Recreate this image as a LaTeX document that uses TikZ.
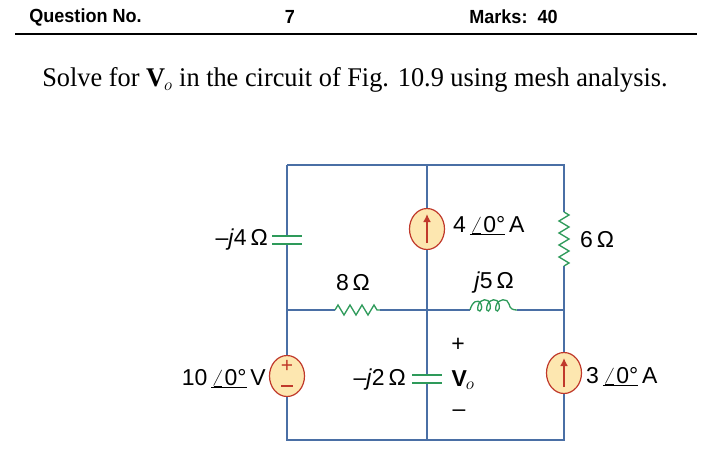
\documentclass[tikz,border=0pt]{standalone}
\usepackage{fontspec}
\setmainfont{Liberation Serif}
\newfontfamily\hsf{Liberation Sans}
\usetikzlibrary{decorations.pathmorphing,shapes.geometric,arrows.meta}
\definecolor{wire}{HTML}{4A6FA5}
\definecolor{comp}{HTML}{2E9A5A}
\definecolor{srcfill}{HTML}{FDE7B0}
\definecolor{srcline}{HTML}{C0392B}
\begin{document}
\begin{tikzpicture}[x=1pt,y=-1pt,
  w/.style={draw=wire,line width=1.3pt},
  src/.style={ellipse,draw=srcline,fill=srcfill,line width=1.2pt,minimum width=35pt,minimum height=41pt,inner sep=0pt},
  lbl/.style={font=\hsf\fontsize{23}{23}\selectfont,text=black,inner sep=1pt},
  res/.style={draw=comp,line width=1.3pt,decorate,decoration={zigzag,segment length=12pt,amplitude=5pt}},
  capl/.style={draw=comp,line width=1.3pt},
  hd/.style={font=\hsf\bfseries\fontsize{19}{19}\selectfont,xscale=0.95}]
\useasboundingbox (0,0) rectangle (710,471);
% header
\node[hd,anchor=west] (q) at (26,17) {Question No.};
\node[hd] (n) at (290,17) {7};
\node[hd,anchor=west] (m) at (466,17) {Marks:\ \ 40};
\coordinate (l1) at (15,34); \coordinate (l2) at (697,34);
\draw[line width=1.2pt] (l1) -- (l2);
\node[font=\fontsize{27}{27}\selectfont,xscale=0.975] (t) at (355,80) {Solve for \textbf{V}\kern-1pt$_{o}$ in the circuit of Fig. 10.9 using mesh analysis.};
% nodes of circuit
\coordinate (TL) at (287,165); \coordinate (TM) at (427,165); \coordinate (TR) at (564,165);
\coordinate (ML) at (287,310); \coordinate (MM) at (427,310); \coordinate (MR) at (564,310);
\coordinate (BL) at (287,440); \coordinate (BM) at (427,440); \coordinate (BR) at (564,440);
% components
\node[src] (vs) at (287,376) {};
\node[src] (is1) at (427,229) {};
\node[src] (is2) at (564,373) {};
\coordinate (c1a) at (287,236); \coordinate (c1b) at (287,244);
\coordinate (c2a) at (427,375); \coordinate (c2b) at (427,383);
\coordinate (r6a) at (564,212); \coordinate (r6b) at (564,266);
\coordinate (r8a) at (335,310); \coordinate (r8b) at (380,310);
\coordinate (la) at (470,310); \coordinate (lb) at (517,310);
% wires
\draw[w] (TL) -- (TM) -- (TR) -- (r6a);
\draw[w] (r6b) -- (MR) -- (is2.north);
\draw[w] (is2.south) -- (BR) -- (BM) -- (BL) -- (vs.south);
\draw[w] (vs.north) -- (ML) -- (c1b);
\draw[w] (c1a) -- (TL);
\draw[w] (ML) -- (r8a); \draw[w] (r8b) -- (MM) -- (la); \draw[w] (lb) -- (MR);
\draw[w] (TM) -- (is1.north); \draw[w] (is1.south) -- (MM) -- (c2a);
\draw[w] (c2b) -- (BM);
% capacitors
\draw[capl] (272,236) -- (302,236); \draw[capl] (272,244) -- (302,244);
\draw[capl] (412,375) -- (442,375); \draw[capl] (412,383) -- (442,383);
% resistors
\draw[res] (r6a) -- (r6b);
\draw[res] (r8a) -- (r8b);
% inductor
\draw[draw=comp,line width=1.3pt] (la) .. controls (472,302) and (478,298) .. (481,304)
  .. controls (484,312) and (476,314) .. (478,306) .. controls (480,298) and (489,298) .. (490,304)
  .. controls (492,312) and (485,314) .. (487,306) .. controls (489,298) and (498,298) .. (499,304)
  .. controls (501,312) and (494,314) .. (496,306) .. controls (498,298) and (508,298) .. (509,304)
  .. controls (510,309) and (513,310) .. (lb);
% source symbols
\draw[srcline,line width=2pt,-{Latex[length=8pt,width=8pt]}] (427,243) -- (427,214);
\draw[srcline,line width=2pt,-{Latex[length=8pt,width=8pt]}] (564,387) -- (564,358);
\node[text=srcline,font=\hsf\fontsize{21}{21}\selectfont,inner sep=0pt] (vp) at (287,366) {+};
\coordinate (m1) at (281,386); \coordinate (m2) at (293,386);
\draw[srcline,line width=1.4pt] (m1) -- (m2);
% labels
\node[lbl,anchor=east] (lc1) at (269,240) {–\textit{j}4\,Ω};
\node[lbl,anchor=east] (lvs) at (267,379) {10\,\underline{$\angle$0°}\,V};
\node[lbl] (l8) at (353,283) {8\,Ω};
\node[lbl] (l5) at (494,283) {\textit{j}5\,Ω};
\node[lbl,anchor=west] (l4) at (452,226) {4\,\underline{$\angle$0°}\,A};
\node[lbl,anchor=west] (l6) at (579,240) {6\,Ω};
\node[lbl,anchor=east] (lc2) at (407,380) {–\textit{j}2\,Ω};
\node[lbl,anchor=west] (l3) at (585,377) {3\,\underline{$\angle$0°}\,A};
\node[lbl] (pl) at (458,345) {+};
\node[lbl,font=\hsf\bfseries\fontsize{23}{23}\selectfont] (vo) at (463,380) {V\kern-1pt$_{o}$};
\node[lbl] (mi) at (459,413) {–};
\end{tikzpicture}
\end{document}
